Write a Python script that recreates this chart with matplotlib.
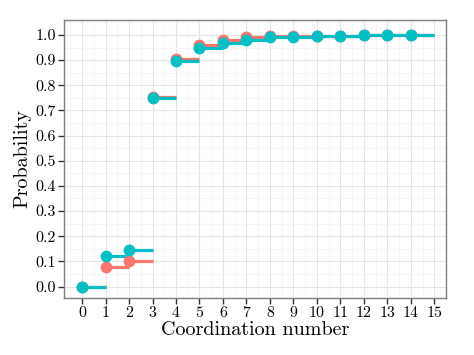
import matplotlib
matplotlib.use("Agg")
import matplotlib.pyplot as plt
import numpy as np

# coordination numbers and cumulative probabilities (ECDF steps)
coord = [0, 1, 2, 3, 4, 5, 6, 7, 8, 9, 10, 11, 12, 13, 14]
prob_red = [0.0, 0.077, 0.100, 0.752, 0.905, 0.960, 0.980, 0.990, 0.994, 0.995, 0.996, 0.997, 0.998, 0.999, 1.0]
prob_teal = [0.0, 0.123, 0.145, 0.748, 0.895, 0.950, 0.970, 0.982, 0.990, 0.993, 0.995, 0.997, 0.998, 0.999, 1.0]
x_end = 15

xticks = list(range(0, 16))
yticks = [round(0.1 * i, 1) for i in range(11)]

plt.rcParams["font.family"] = ["cmr10", "DejaVu Serif"]
plt.rcParams["axes.formatter.use_mathtext"] = True

fig = plt.figure(figsize=(4.74, 3.55), dpi=100)
ax = fig.add_axes([0.135, 0.161, 0.806, 0.783])

for vals, col in [(prob_red, "#F8766D"), (prob_teal, "#00BFC4")]:
    starts = np.array(coord)
    ends = np.append(starts[1:], x_end)
    ax.hlines(vals, starts, ends, colors=col, linewidth=2.3, zorder=3)
    ax.plot(starts, vals, "o", color=col, markersize=7.5, zorder=4)

ax.set_xlim(-0.77, 15.5)
ax.set_ylim(-0.045, 1.06)
ax.set_xticks(xticks)
ax.set_xticklabels([str(t) for t in xticks])
ax.set_yticks(yticks)
ax.set_yticklabels(["%.1f" % t for t in yticks])
ax.set_xticks(np.arange(-0.5, 15.6, 1.0), minor=True)
ax.set_yticks(np.arange(0.05, 1.06, 0.1), minor=True)

ax.grid(which="major", color="#E5E5E5", linewidth=0.8, zorder=0)
ax.grid(which="minor", color="#F5F5F5", linewidth=0.6, zorder=0)
ax.set_axisbelow(True)
ax.tick_params(which="minor", length=0)
ax.tick_params(which="major", length=4, width=1, color="#333333", labelsize=11.5, pad=2)
for s in ax.spines.values():
    s.set_color("#7F7F7F")
    s.set_linewidth(1.0)

ax.set_xlabel("Coordination number", fontsize=14.5, labelpad=1)
ax.set_ylabel("Probability", fontsize=14.5, labelpad=3)

fig.savefig("out.png", dpi=100)
